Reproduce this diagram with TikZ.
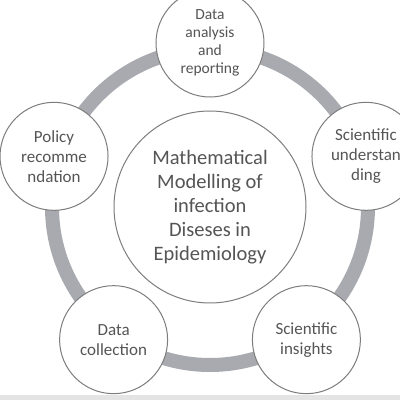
\documentclass[tikz,border=0pt]{standalone}
\usepackage{fontspec}
\setmainfont{Carlito}
\definecolor{ringgray}{RGB}{168,170,176}
\definecolor{edgegray}{RGB}{125,125,125}
\definecolor{txtgray}{RGB}{85,85,85}
\definecolor{stripgray}{RGB}{228,228,228}

\begin{document}
\begin{tikzpicture}[x=1pt,y=1pt,
  ring/.style={draw=ringgray,line width=14pt},
  hub/.style={circle,draw=edgegray,line width=1pt,fill=white,minimum size=192pt,
    inner sep=0pt,align=center,text=txtgray,font=\fontsize{20.5}{24}\selectfont},
  sat/.style={circle,draw=edgegray,line width=1pt,fill=white,minimum size=108pt,
    inner sep=0pt,align=center,text=txtgray,font=\fontsize{17}{20}\selectfont}]
\useasboundingbox (0,0) rectangle (400,400);
\clip (0,0) rectangle (400,400);
\fill[stripgray] (0,0) rectangle (400,5);
\coordinate (mid) at (210,193);
\draw[ring] (mid) circle (158);
\node[hub] (model) at (mid) {Mathematical\\Modelling of\\infection\\Diseses in\\Epidemiology};
\node[sat,font=\fontsize{15.5}{18}\selectfont] (report) at ([shift={(90:164)}]mid)
  {Data\\analysis\\and\\reporting};
\node[sat] (policy) at ([shift={(162:164)}]mid) {Policy\\recomme\\ndation};
\node[sat] (collect) at ([shift={(234:164)}]mid) {Data\\collection};
\node[sat] (insight) at ([shift={(306:164)}]mid) {Scientific\\insights};
\node[sat] (underst) at ([shift={(18:164)}]mid) {Scientific\\understan\\ding};
\end{tikzpicture}
\end{document}
